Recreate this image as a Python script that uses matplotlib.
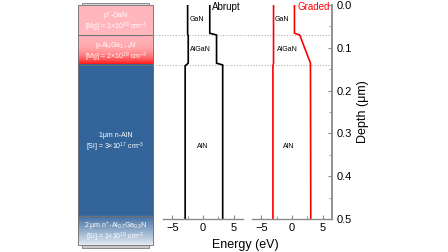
import matplotlib
matplotlib.use("Agg")
import matplotlib.pyplot as plt
import numpy as np
from matplotlib.patches import Rectangle
from matplotlib.ticker import MultipleLocator

plt.rcParams['font.family'] = ['Liberation Sans', 'DejaVu Sans']
plt.rcParams['mathtext.default'] = 'regular'

# band edges (eV) vs depth (um)
abrupt_cb_depth = [0, 0.066, 0.070, 0.136, 0.140, 0.5]
abrupt_cb = [1.1, 1.1, 2.2, 2.2, 3.2, 3.2]
abrupt_vb_depth = [0, 0.068, 0.072, 0.136, 0.142, 0.5]
abrupt_vb = [-2.5, -2.5, -2.4, -2.4, -2.9, -2.9]

graded_cb_depth = [0, 0.066, 0.070, 0.136, 0.5]
graded_cb = [0.4, 0.4, 1.25, 3.0, 3.05]
graded_vb_depth = [0, 0.136, 0.142, 0.5]
graded_vb = [-3.0, -3.0, -3.1, -3.1]

interfaces = [0.07, 0.14]
region_labels = ["GaN", "AlGaN", "AlN"]
region_depths = [0.035, 0.105, 0.33]

# layer stack (drawn on the same depth scale, bottom layer compressed)
layer_edges = [0, 0.07, 0.14, 0.493, 0.561]
layer_name = [
    "p$^{+}$-GaN",
    "p-Al$_{x}$Ga$_{1-x}$N",
    "1μm n-AlN",
    "2 μm n$^{+}$-Al$_{0.7}$Ga$_{0.3}$N",
]
layer_doping = [
    "[Mg] = 1×10$^{20}$ cm$^{-3}$",
    "[Mg] = 2×10$^{19}$ cm$^{-3}$",
    "[Si] = 3×10$^{17}$ cm$^{-3}$",
    "[Si] = 1×10$^{19}$ cm$^{-3}$",
]
layer_top = ["#ffb6bd", "#ffb0b6", "#33659a", "#3c6a9e"]
layer_bot = ["#ffb6bd", "#ff0a0a", "#33659a", "#e2eaf3"]

W, H = 448, 252
fig = plt.figure(figsize=(W / 100, H / 100), dpi=100)

def px(x0, y0, x1, y1):
    return [x0 / W, 1 - y1 / H, (x1 - x0) / W, (y1 - y0) / H]

# stack
axs = fig.add_axes(px(77, 2, 154, 249))
axs.set_xlim(0, 1)
axs.set_ylim(0.570, -0.007)
axs.axis("off")
for i in range(4):
    t, b = layer_edges[i], layer_edges[i + 1]
    c0 = np.array(matplotlib.colors.to_rgb(layer_top[i]))
    c1 = np.array(matplotlib.colors.to_rgb(layer_bot[i]))
    f = np.linspace(0, 1, 64)
    if i == 1:
        f = f ** 3
    grad = (c0[None, :] * (1 - f[:, None]) + c1[None, :] * f[:, None])[:, None, :]
    axs.imshow(grad, extent=[0.01, 0.99, b, t], aspect="auto", zorder=1)
    axs.add_patch(Rectangle((0.01, t), 0.98, b - t, fill=False,
                            edgecolor="#6f6f6f", lw=0.6, zorder=2))
    mid = (t + b) / 2 + 0.003
    axs.text(0.5, mid - 0.0135, layer_name[i], color="white", fontsize=5,
             ha="center", va="center", zorder=3)
    axs.text(0.5, mid + 0.0135, layer_doping[i], color="white", fontsize=5,
             ha="center", va="center", zorder=3)
axs.add_patch(Rectangle((0.07, -0.0055), 0.86, 0.0055, facecolor="#d8d8d8",
                        edgecolor="#7a7a7a", lw=0.6, zorder=2))
axs.add_patch(Rectangle((0.07, layer_edges[-1]), 0.86, 0.0065, facecolor="#c8c8c8",
                        edgecolor="#7a7a7a", lw=0.6, zorder=2))

# dotted interface lines across both panels
axo = fig.add_axes(px(153, 5, 331, 219))
axo.set_ylim(0.5, 0)
axo.axis("off")
for d in interfaces:
    axo.axhline(d, color="#b5b5b5", lw=0.8, ls=(0, (1, 1.5)))

ax1 = fig.add_axes(px(163, 5, 243, 219))
ax2 = fig.add_axes(px(252, 5, 332, 219))
for ax in (ax1, ax2):
    ax.set_facecolor("none")
    ax.set_xlim(-6.5, 6.5)
    ax.set_ylim(0.5, 0)
    for s in ("top", "left", "right"):
        ax.spines[s].set_visible(False)
    ax.spines["bottom"].set_color("#8a8a8a")
    ax.spines["bottom"].set_linewidth(1.0)
    ax.xaxis.set_major_locator(MultipleLocator(5))
    ax.xaxis.set_minor_locator(MultipleLocator(2.5))
    ax.tick_params(axis="x", which="both", direction="in", color="#8a8a8a",
                   labelsize=8, pad=3)
    ax.tick_params(axis="x", which="major", length=3)
    ax.tick_params(axis="x", which="minor", length=2)

ax1.set_yticks([])
ax1.plot(abrupt_cb, abrupt_cb_depth, color="black", lw=1.2)
ax1.plot(abrupt_vb, abrupt_vb_depth, color="black", lw=1.2)
ax1.text(1.5, 0.005, "Abrupt", fontsize=7, color="black", ha="left", va="center")

ax2.plot(graded_cb, graded_cb_depth, color="red", lw=1.2)
ax2.plot(graded_vb, graded_vb_depth, color="red", lw=1.2)
ax2.text(0.85, 0.005, "Graded", fontsize=7, color="red", ha="left", va="center")

for ax, xs in ((ax1, [-2.1, -2.1, -1.0]), (ax2, [-2.8, -2.4, -1.5])):
    for lab, d, x in zip(region_labels, region_depths, xs):
        ax.text(x, d, lab, fontsize=5, ha="left", va="center")

ax2.spines["right"].set_visible(True)
ax2.spines["right"].set_color("#8a8a8a")
ax2.spines["right"].set_linewidth(1.3)
ax2.yaxis.tick_right()
ax2.yaxis.set_label_position("right")
ax2.yaxis.set_major_locator(MultipleLocator(0.1))
ax2.yaxis.set_minor_locator(MultipleLocator(0.05))
ax2.tick_params(axis="y", which="both", direction="in", color="#8a8a8a",
                labelsize=8, pad=3)
ax2.tick_params(axis="y", which="major", length=3)
ax2.tick_params(axis="y", which="minor", length=2)
ax2.yaxis.set_major_formatter(matplotlib.ticker.FormatStrFormatter("%.1f"))
ax2.set_ylabel("Depth (μm)", fontsize=9, labelpad=4)

fig.text(245 / W, 1 - 245 / H, "Energy (eV)", fontsize=9, ha="center", va="center")

fig.savefig("out.png", dpi=100)
